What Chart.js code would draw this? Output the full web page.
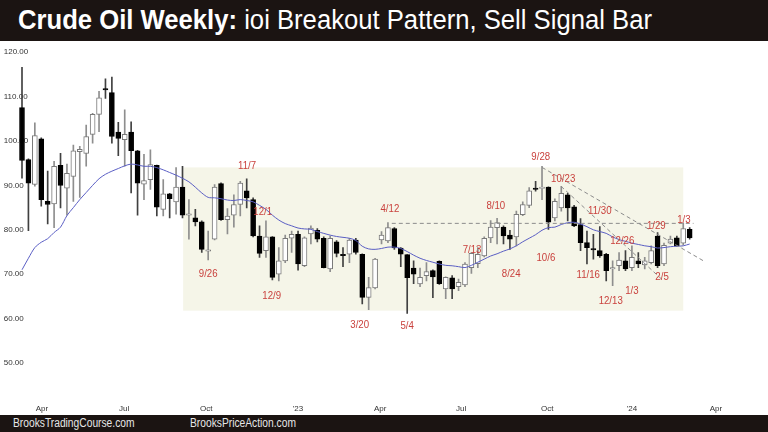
<!DOCTYPE html>
<html>
<head>
<meta charset="utf-8">
<script src="https://cdn.jsdelivr.net/npm/chart.js@4.4.1/dist/chart.umd.min.js"></script>
<style>
  html, body { margin: 0; padding: 0; background: #fff; }
  #wrap { position: relative; width: 768px; height: 432px; overflow: hidden; }
  #title { position: absolute; left: 0; top: 0; width: 768px; height: 41px; background: #1b1412; }
  #title div { position: absolute; left: 18px; top: 0; color: #fff; white-space: nowrap;
    font-family: "Liberation Sans", Arial, sans-serif; font-size: 27px; line-height: 41px;
    transform: scaleX(0.95); transform-origin: left center; }
  #foot { position: absolute; left: 0; top: 415px; width: 768px; height: 17px; background: #1b1412; color: #e6e6e6;
    font-family: "Liberation Sans", sans-serif; font-size: 12.5px; line-height: 17px; }
  #foot span { position: absolute; top: 0; transform: scaleX(0.82); transform-origin: left center; white-space: nowrap; }
  #holder { position: absolute; left: 0; top: 41px; width: 768px; height: 374px; }
</style>
</head>
<body>
<div id="wrap">
  <div id="title"><div><b>Crude Oil Weekly:</b> ioi Breakout Pattern, Sell Signal Bar</div></div>
  <div id="holder"><canvas id="chart"></canvas></div>
  <div id="foot"><span style="left:13px">BrooksTradingCourse.com</span><span style="left:190px">BrooksPriceAction.com</span></div>
</div>
<script>
// weekly bars, Mar 2022 -> Mar 2024
const opens = [107.5,95.8,90.2,100.5,86.4,85.8,94.5,89.4,92.0,97.6,
  97.2,101.5,106.0,111.8,110.9,102.0,100.3,102.0,97.8,90.3,
  91.3,94.5,84.6,88.1,86.3,89.6,83.3,82.7,81.8,75.2,
  77.9,90.4,82.3,83.3,85.7,88.8,86.8,78.6,75.3,78.4,
  70.0,73.0,78.1,79.0,71.9,79.1,79.9,78.1,71.2,77.3,
  74.5,74.5,77.7,74.5,64.8,66.9,77.7,77.5,80.3,75.9,
  74.4,71.4,67.8,69.7,70.8,72.9,66.7,69.2,67.2,67.6,
  71.5,72.4,74.1,78.2,80.5,80.6,78.8,78.4,83.4,85.5,
  89.4,89.3,89.6,82.7,84.9,87.9,85.2,81.2,77.1,75.8,
  75.3,74.5,71.2,71.9,73.0,71.5,73.0,72.1,72.6,78.6,
  72.3,77.0,78.2,77.0,80.1];
const highs = [116.6,96.0,104.1,100.7,93.2,95.4,97.2,94.8,99.1,98.8,
  103.6,106.2,111.2,114.0,114.4,104.2,107.0,104.3,97.9,97.0,
  98.0,94.6,91.3,88.2,94.0,94.3,86.8,84.6,82.0,79.7,
  90.2,90.6,84.8,87.9,90.9,91.5,87.2,80.9,82.0,78.5,
  76.0,78.8,79.7,79.7,78.4,80.9,80.3,78.4,78.6,77.6,
  76.0,78.1,78.1,74.6,69.3,73.6,79.6,81.6,80.5,76.0,
  74.4,73.0,71.4,72.6,71.0,73.0,69.4,69.7,68.9,72.6,
  74.9,76.0,78.4,82.1,82.6,80.9,79.9,84.2,86.3,89.5,
  90.9,94.3,89.7,87.0,89.8,88.2,85.5,82.5,79.7,79.0,
  80.7,74.7,73.0,74.9,75.3,76.4,74.9,73.8,76.4,79.4,
  77.0,78.6,78.6,81.5,80.5];
const lows = [91.6,79.8,89.8,85.3,81.3,80.5,84.9,83.3,86.4,87.3,
  94.3,99.5,102.1,109.6,99.5,96.7,94.3,88.3,83.3,86.8,
  89.1,83.1,83.1,82.7,83.5,82.7,77.9,80.9,74.9,73.2,
  77.7,82.1,79.1,80.6,83.1,84.9,78.4,73.8,73.8,68.7,
  68.5,72.6,74.9,70.9,71.7,76.8,77.3,71.4,70.6,73.9,
  71.7,72.6,74.5,63.3,62.0,66.7,76.8,77.1,75.6,71.7,
  61.2,67.9,67.2,68.5,64.7,67.7,64.5,64.5,66.3,67.2,
  70.2,71.5,73.9,77.1,76.8,76.8,75.6,76.4,83.2,85.0,
  88.7,86.8,80.1,82.0,84.2,82.0,80.7,75.3,72.3,73.4,
  73.8,68.5,67.4,70.8,70.8,70.8,71.5,71.2,72.3,71.5,
  71.9,76.8,76.3,76.6,77.9];
const closes = [95.6,90.5,101.2,86.8,85.7,94.3,90.0,92.7,97.8,98.1,
  101.0,106.0,109.7,111.5,101.0,100.6,101.5,97.8,90.5,91.1,
  94.7,85.1,88.1,87.0,89.6,83.3,83.6,81.8,75.6,75.5,
  89.6,82.3,83.1,85.7,90.5,87.2,78.6,74.7,78.4,69.3,
  73.0,78.1,79.0,72.3,78.2,80.4,77.9,71.5,78.1,74.7,
  74.2,77.7,74.9,64.8,67.0,73.4,78.8,80.5,75.9,74.5,
  69.2,70.0,69.3,70.6,69.4,67.9,69.3,66.7,68.2,72.3,
  74.7,74.5,78.1,80.6,81.6,78.6,77.9,83.5,85.7,88.8,
  89.1,89.6,81.7,86.4,88.2,84.9,80.9,77.1,76.0,75.5,
  74.1,70.8,71.5,73.2,71.2,73.8,72.3,73.0,75.3,71.9,
  76.5,77.9,76.4,80.3,78.2];
// 20 bar moving average as drawn
const ma20 = [71.0,73.6,76.0,77.2,78.0,79.4,80.6,83.2,85.0,86.8,
  88.4,90.0,91.5,92.5,93.2,93.8,94.4,94.8,94.6,94.3,
  94.3,94.0,93.5,92.9,92.3,91.6,90.8,89.6,88.3,87.3,
  87.2,87.0,86.7,86.6,86.8,86.6,86.3,85.5,84.6,83.3,
  82.2,81.4,80.9,80.4,80.2,80.1,79.6,79.2,78.8,78.5,
  78.3,78.1,77.6,76.3,75.7,75.6,75.8,76.1,76.1,75.8,
  75.1,74.3,73.6,73.1,72.7,72.3,72.0,71.9,71.7,71.5,
  72.0,72.7,73.4,74.1,74.6,75.2,75.7,76.4,77.3,78.1,
  78.9,79.9,80.5,80.6,81.2,81.6,81.7,81.3,80.7,80.0,
  79.6,79.2,78.4,77.8,77.4,77.0,76.7,76.4,76.2,75.9,
  76.0,76.2,76.3,76.4,76.8];

const xTickPos = [3.1, 15.9, 28.7, 43.0, 55.8, 68.4, 81.8, 95.0, 108.1];
const xTickText = ["Apr", "Jul", "Oct", "'23", "Apr", "Jul", "Oct", "'24", "Apr"];
const yTicks = [50, 60, 70, 80, 90, 100, 110, 120];

// swing labels: text, week, price
const notes = [
  ["11/7", 35.05, 94.3], ["12/1", 37.5, 84.0], ["9/26", 29.0, 70.1], ["12/9", 38.9, 65.2],
  ["3/20", 52.6, 58.5], ["5/4", 60.0, 58.3], ["4/12", 57.3, 84.7], ["7/13", 70.1, 75.5],
  ["8/10", 73.8, 85.5], ["8/24", 76.2, 70.1], ["9/28", 80.8, 96.5], ["10/23", 84.3, 91.4],
  ["10/6", 81.6, 73.7], ["11/30", 90.0, 84.2], ["11/16", 88.2, 69.9], ["12/13", 91.7, 64.1],
  ["12/26", 93.5, 77.5], ["1/3", 95.0, 66.3], ["1/29", 98.8, 80.85], ["2/5", 99.7, 69.4],
  ["1/3", 103.1, 82.2]
];
const trendLines = [
  [[57.6, 81.45], [104.6, 81.45]],
  [[81.0, 94.05], [106.4, 72.8]],
  [[83.96, 89.8], [99.7, 68.8]]
];
const rangeBox = { x0: 25.1, x1: 103.0, y0: 61.8, y1: 94.05 };

const weeks = opens.map((_, i) => i);
const up = weeks.map(i => closes[i] >= opens[i]);

const boxPlugin = {
  id: 'rangeBox',
  beforeDatasetsDraw(chart) {
    const { ctx, scales: { x, y } } = chart;
    const l = x.getPixelForValue(rangeBox.x0), r = x.getPixelForValue(rangeBox.x1);
    const t = y.getPixelForValue(rangeBox.y1), b = y.getPixelForValue(rangeBox.y0);
    ctx.save();
    ctx.fillStyle = '#f5f5e8';
    ctx.fillRect(l, t, r - l, b - t);
    ctx.restore();
  }
};

// red date labels, squeezed a bit to look like the narrow original font
const notePlugin = {
  id: 'notes',
  afterDatasetsDraw(chart) {
    const { ctx, scales: { x, y } } = chart;
    ctx.save();
    ctx.font = '11.5px "Liberation Sans", sans-serif';
    ctx.fillStyle = '#c9403c';
    ctx.textAlign = 'center';
    ctx.textBaseline = 'middle';
    notes.forEach(n => {
      ctx.save();
      ctx.translate(x.getPixelForValue(n[1]), y.getPixelForValue(n[2]));
      ctx.scale(0.84, 1);
      ctx.fillText(n[0], 0, 0);
      ctx.restore();
    });
    ctx.restore();
  }
};

const datasets = [
  {
    type: 'bar',
    data: weeks.map(i => ({ x: i, y: [lows[i], highs[i]] })),
    backgroundColor: weeks.map(i => up[i] ? '#8e8e8e' : '#404040'),
    barThickness: 1,
    grouped: false,
    order: 4
  },
  {
    type: 'bar',
    data: weeks.map(i => ({ x: i, y: [opens[i], closes[i]] })),
    backgroundColor: weeks.map(i => up[i] ? '#ffffff' : '#000000'),
    borderColor: weeks.map(i => up[i] ? '#7a7a7a' : '#000000'),
    borderWidth: 1,
    borderSkipped: false,
    barThickness: 5,
    grouped: false,
    order: 3
  },
  {
    type: 'line',
    data: weeks.map(i => ({ x: i, y: ma20[i] })),
    borderColor: '#5a5ec4',
    borderWidth: 1,
    pointRadius: 0,
    tension: 0.3,
    order: 2
  }
];
trendLines.forEach(tl => datasets.push({
  type: 'line',
  data: tl.map(p => ({ x: p[0], y: p[1] })),
  borderColor: '#8c8c8c',
  borderWidth: 1,
  borderDash: [4, 3],
  pointRadius: 0,
  order: 1
}));

new Chart(document.getElementById('chart'), {
  type: 'bar',
  data: { datasets },
  options: {
    responsive: true,
    maintainAspectRatio: false,
    animation: false,
    layout: { padding: { left: 2.74, right: 14.12, top: 3.6, bottom: 0 } },
    plugins: { legend: { display: false }, tooltip: { enabled: false } },
    scales: {
      x: {
        type: 'linear',
        offset: false,
        min: -3,
        max: 114,
        grid: { display: false, drawTicks: false },
        border: { display: false },
        afterBuildTicks: s => { s.ticks = xTickPos.map(v => ({ value: v })); },
        afterFit: s => { s.height = 16.4; },
        ticks: {
          autoSkip: false,
          maxRotation: 0,
          padding: 5,
          color: '#333',
          font: { family: '"Liberation Sans Narrow", sans-serif', size: 8 },
          callback: (v, i) => xTickText[i]
        }
      },
      y: {
        min: 42,
        max: 121.2,
        grid: { display: false, drawTicks: false },
        border: { display: false },
        afterBuildTicks: s => { s.ticks = yTicks.map(v => ({ value: v })); },
        afterFit: s => { s.width = 0; },
        ticks: {
          mirror: true,
          padding: 1,
          color: '#333',
          font: { family: '"Liberation Sans Narrow", sans-serif', size: 8 },
          callback: v => Number(v).toFixed(2)
        }
      }
    }
  },
  plugins: [boxPlugin, notePlugin]
});
</script>
</body>
</html>
